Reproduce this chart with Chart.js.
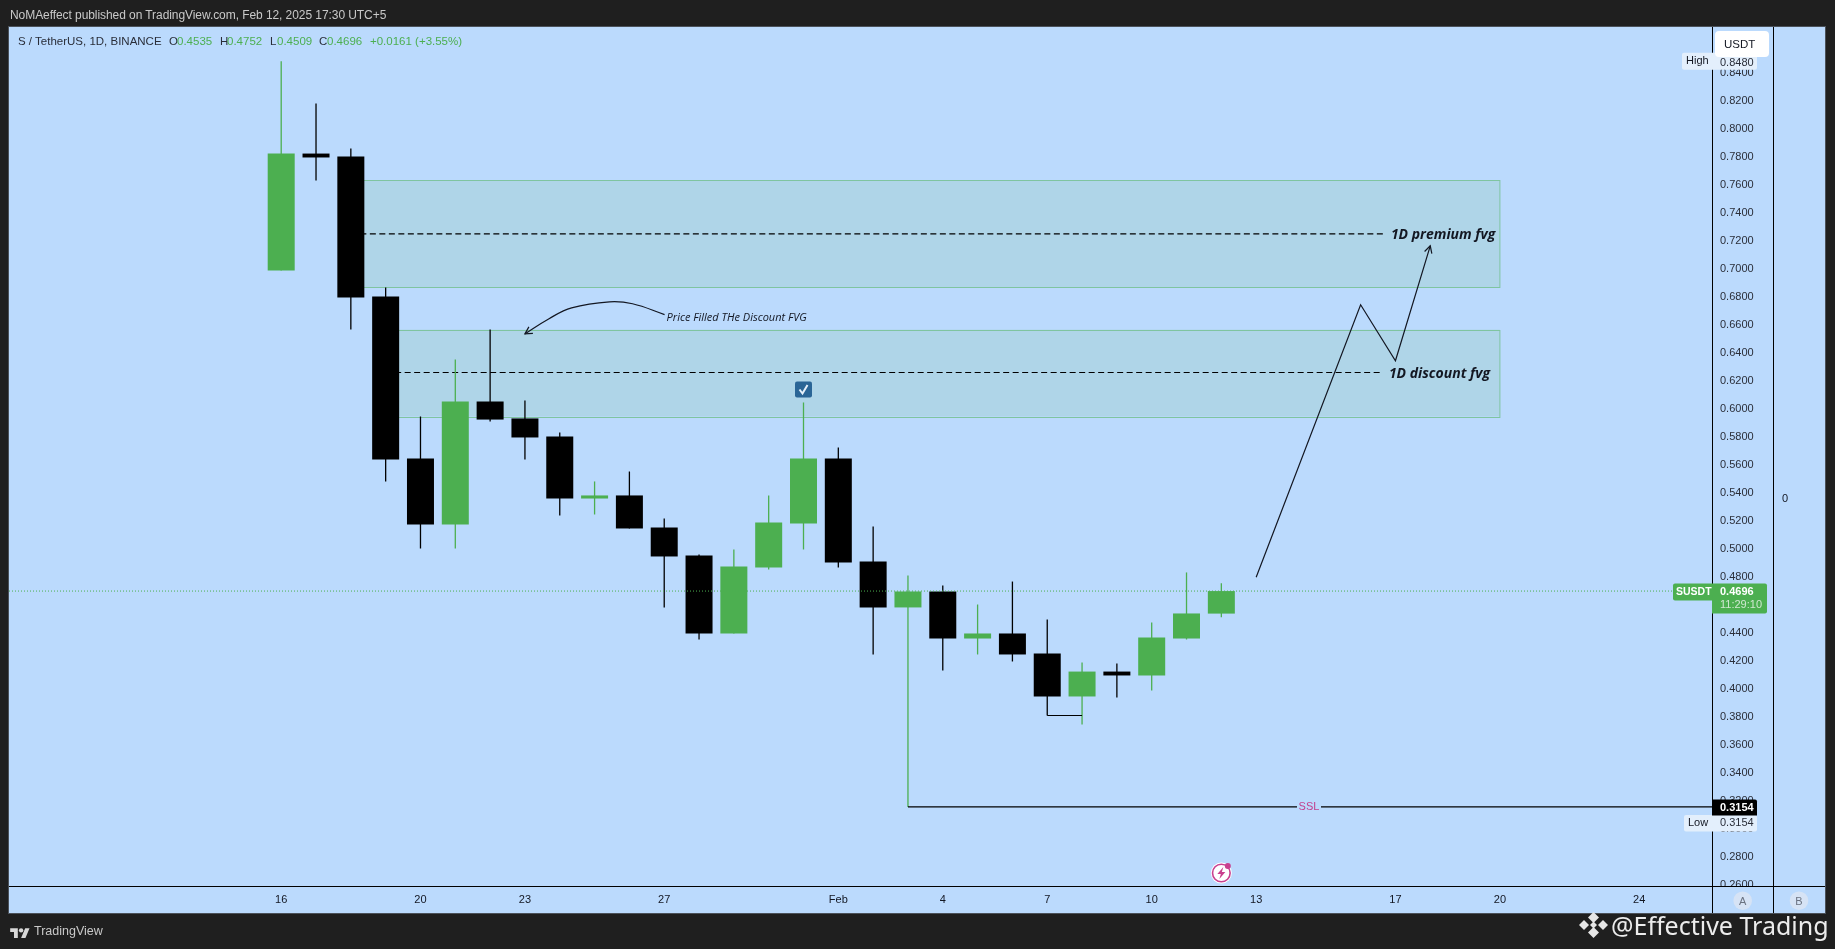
<!DOCTYPE html>
<html><head><meta charset="utf-8">
<script src="https://cdn.jsdelivr.net/npm/chart.js@4"></script>
<style>
html,body{margin:0;padding:0;background:#1f1f1f;width:1835px;height:949px;overflow:hidden}
#c{position:absolute;left:0;top:0}
.t{position:absolute;white-space:nowrap;font-family:"Liberation Sans",sans-serif;line-height:1}
.g{color:#4caf50}.d{color:#2a2e39}
svg{position:absolute}
</style></head><body>
<canvas id="c" width="1835" height="949"></canvas>
<div class="t" style="left:10px;top:9px;font-size:12px;color:#c9c9c9;letter-spacing:-.07px">NoMAeffect published on TradingView.com, Feb 12, 2025 17:30 UTC+5</div>
<div class="t d" style="left:18px;top:36px;font-size:11.5px">S / TetherUS, 1D, BINANCE</div>
<div class="t d" style="left:169px;top:36px;font-size:11.5px">O</div><div class="t g" style="left:177px;top:36px;font-size:11.5px">0.4535</div>
<div class="t d" style="left:220px;top:36px;font-size:11.5px">H</div><div class="t g" style="left:227px;top:36px;font-size:11.5px">0.4752</div>
<div class="t d" style="left:270px;top:36px;font-size:11.5px">L</div><div class="t g" style="left:277px;top:36px;font-size:11.5px">0.4509</div>
<div class="t d" style="left:319px;top:36px;font-size:11.5px">C</div><div class="t g" style="left:327px;top:36px;font-size:11.5px">0.4696</div>
<div class="t g" style="left:370px;top:36px;font-size:11.5px">+0.0161 (+3.55%)</div>
<svg style="left:10px;top:926px" width="20" height="12" viewBox="0 0 36 22"><path fill="#d8d8d8" d="M14 22H7V11H0V4h14v18zM28 22h-8l7.5-18h8L28 22z"/><circle fill="#d8d8d8" cx="20" cy="8" r="4"/></svg>
<div class="t" style="left:34px;top:925px;font-size:12.5px;color:#c9c9c9">TradingView</div>
<svg style="left:1579px;top:911px" width="29" height="28" viewBox="0 0 29 28"><g fill="#e6e6e6"><polygon points="14.5,1 20,6.5 14.5,12 9,6.5"/><polygon points="5,9 10,14 5,19 0,14"/><polygon points="24,9 29,14 24,19 19,14"/><polygon points="14.5,10.5 18,14 14.5,17.5 11,14"/><polygon points="14.5,16 20,21.5 14.5,27 9,21.5"/></g></svg>
<div class="t" style="left:1611px;top:913px;font-family:'Noto Sans',sans-serif;font-size:25px;color:#ececec">@Effective Trading</div>
<script>
const dayLabels = ["Jan 16","Jan 17","Jan 18","Jan 19","Jan 20","Jan 21","Jan 22","Jan 23","Jan 24","Jan 25","Jan 26","Jan 27","Jan 28","Jan 29","Jan 30","Jan 31","Feb 1","Feb 2","Feb 3","Feb 4","Feb 5","Feb 6","Feb 7","Feb 8","Feb 9","Feb 10","Feb 11","Feb 12"];
const opens  = [0.6986,0.7821,0.7800,0.6800,0.5643,0.5171,0.6050,0.5929,0.5800,0.5357,0.5379,0.5150,0.4950,0.4393,0.4864,0.5179,0.5643,0.4907,0.4579,0.4693,0.4357,0.4393,0.4250,0.3943,0.4121,0.4093,0.4357,0.4535];
const highs  = [0.8480,0.8179,0.7857,0.6864,0.5943,0.6350,0.6564,0.6057,0.5829,0.5479,0.5550,0.5214,0.4957,0.4993,0.5379,0.6043,0.5721,0.5157,0.4807,0.4736,0.4600,0.4764,0.4493,0.4186,0.4179,0.4471,0.4829,0.4752];
const lows   = [0.6986,0.7629,0.6564,0.5479,0.5000,0.5000,0.5907,0.5636,0.5236,0.5243,0.5143,0.4579,0.4350,0.4393,0.4850,0.4993,0.4864,0.4243,0.3154,0.4129,0.4243,0.4193,0.3807,0.3743,0.3936,0.3986,0.4350,0.4509];
const closes = [0.7821,0.7793,0.6793,0.5636,0.5171,0.6050,0.5921,0.5793,0.5357,0.5379,0.5143,0.4943,0.4393,0.4871,0.5186,0.5643,0.4900,0.4579,0.4693,0.4357,0.4393,0.4243,0.3943,0.4121,0.4093,0.4364,0.4536,0.4696];
const tickDays   = [0,4,7,11,16,19,22,25,28,32,35,39];
const tickLabels = ["16","20","23","27","Feb","4","7","10","13","17","20","24"];
const priceTicks = [0.26,0.28,0.30,0.32,0.34,0.36,0.38,0.40,0.42,0.44,0.46,0.48,0.50,0.52,0.54,0.56,0.58,0.60,0.62,0.64,0.66,0.68,0.70,0.72,0.74,0.76,0.78,0.80,0.82,0.84,0.86];
const zoneStarts  = [2,3];
const zoneEnds    = [35,35];
const zoneTops    = [0.7629,0.6564];
const zoneBottoms = [0.6864,0.5943];
const zoneMids    = [0.7248,0.6257];
const midEnds     = [31.73,31.56];
const zoneNames   = ["1D premium fvg","1D discount fvg"];
const pathDays    = [28,31,32,33];
const pathPrices  = [0.4795,0.6741,0.6341,0.7162];
const curveDays   = [11.01,10.09,9.43,8.34,7.68,7.0];
const curvePrices = [0.6671,0.6748,0.6762,0.6719,0.6640,0.6533];
const sweepDays   = [22,23];
const sweepPrices = [0.3807,0.3807];
const sslStart = 18, sslPrice = 0.3154, lastPrice = 0.4696, highPrice = 0.8480, lowPrice = 0.3154;

const GREEN="#4caf50", BLACK="#000000", INK="#131722", PANE="#bbdafd";
const xMin=(9-281.2)/34.82, xMax=(1712-281.2)/34.82, yMax=0.8725, yMin=0.25893;
const up=opens.map((o,i)=>closes[i]>=opens[i]);
const cols=up.map(u=>u?GREEN:BLACK);
const line=(data,extra)=>Object.assign({type:'line',data,borderColor:INK,borderWidth:1.2,pointRadius:0,fill:false,order:0,parsing:{xAxisKey:'x',yAxisKey:'y'}},extra);
const pts=(xs,ys)=>xs.map((x,i)=>({x,y:ys[i]}));

function box(ctx,x,y,w,h,fill,r){ctx.fillStyle=fill;ctx.beginPath();ctx.roundRect(x,y,w,h,r||0);ctx.fill();}
function txt(ctx,s,x,y,font,color,align){ctx.font=font;ctx.fillStyle=color;ctx.textAlign=align||'left';ctx.textBaseline='middle';ctx.fillText(s,x,y+1);}
function head(ctx,fx,fy,tx,ty,len){const a=Math.atan2(ty-fy,tx-fx);ctx.beginPath();
  ctx.moveTo(tx+len*Math.cos(a+2.65),ty+len*Math.sin(a+2.65));ctx.lineTo(tx,ty);ctx.lineTo(tx+len*Math.cos(a-2.65),ty+len*Math.sin(a-2.65));ctx.strokeStyle=INK;ctx.lineWidth=1.2;ctx.stroke();}

const deco={id:'deco',
 beforeDraw(ch){const c=ch.ctx;c.save();c.fillStyle="#1f1f1f";c.fillRect(0,0,1835,949);
   c.fillStyle="#4b5159";c.fillRect(8,26,1818,888);c.fillStyle=PANE;c.fillRect(9,27,1816,886);c.restore();},
 beforeDatasetsDraw(ch){const c=ch.ctx,X=ch.scales.x,Y=ch.scales.y;c.save();
   zoneTops.forEach((t,i)=>{const x0=X.getPixelForValue(zoneStarts[i]),x1=X.getPixelForValue(zoneEnds[i]),y0=Y.getPixelForValue(t),y1=Y.getPixelForValue(zoneBottoms[i]);
     c.fillStyle="#afd5e8";c.fillRect(x0,y0,x1-x0,y1-y0);c.strokeStyle="#7fc4a0";c.lineWidth=1;c.strokeRect(x0,Math.round(y0)+.5,x1-x0,Math.round(y1-y0));});
   c.restore();},
 afterDraw(ch){const c=ch.ctx,X=ch.scales.x,Y=ch.scales.y;c.save();
   c.fillStyle=PANE;c.fillRect(1713,887,60,26);
   c.fillStyle="#000";c.fillRect(1712,27,1,886);c.fillRect(1773,27,1,886);c.fillRect(9,886,1816,1);
   [[1742.7,"A"],[1799,"B"]].forEach(([x,s])=>{c.fillStyle="#d6e3f5";c.beginPath();c.arc(x,900.7,9.3,0,7);c.fill();txt(c,s,x,900.5,"11px 'Liberation Sans'","#6a7280",'center');});
   txt(c,"0",1782,498,"11px 'Liberation Sans'",INK);
   zoneNames.forEach((s,i)=>{txt(c,s,X.getPixelForValue(zoneEnds[i])-(i?111:109),Y.getPixelForValue(zoneMids[i]),"italic bold 14px 'Open Sans'",INK);});
   txt(c,"Price Filled THe Discount FVG",X.getPixelForValue(curveDays[0])+2,Y.getPixelForValue(curvePrices[0])+2,"italic 11px 'Open Sans'",INK);
   const n=pathDays.length-1,m=curveDays.length-1;
   head(c,X.getPixelForValue(pathDays[n-1]),Y.getPixelForValue(pathPrices[n-1]),X.getPixelForValue(pathDays[n]),Y.getPixelForValue(pathPrices[n]),8);
   head(c,X.getPixelForValue(curveDays[m-1]),Y.getPixelForValue(curvePrices[m-1]),X.getPixelForValue(curveDays[m]),Y.getPixelForValue(curvePrices[m]),8);
   const sy=Y.getPixelForValue(sslPrice);box(c,1297,sy-6,24,12,PANE);txt(c,"SSL",1309,sy-1,"11px 'Liberation Sans'","#c2418f",'center');
   const kx=X.getPixelForValue(15),ky=Y.getPixelForValue(highs[15])-13;
   box(c,kx-8.5,ky-8,17,16,"#2a6596",2);c.strokeStyle="#e6f0fa";c.lineWidth=2;c.beginPath();c.moveTo(kx-4,ky);c.lineTo(kx-1,ky+4);c.lineTo(kx+4,ky-4.5);c.stroke();
   const ex=X.getPixelForValue(27),ey=873;
   c.fillStyle="#fff";c.beginPath();c.arc(ex,ey,10.5,0,7);c.fill();c.strokeStyle="#c9408f";c.lineWidth=1.6;c.beginPath();c.arc(ex,ey,8.8,0,7);c.stroke();
   c.fillStyle="#c9408f";c.beginPath();c.moveTo(ex+2,ey-6);c.lineTo(ex-4,ey+1);c.lineTo(ex-.5,ey+1);c.lineTo(ex-2,ey+6);c.lineTo(ex+4,ey-1);c.lineTo(ex+.5,ey-1);c.closePath();c.fill();
   c.beginPath();c.arc(ex+6.5,ey-7,3,0,7);c.fill();
   const ly=Y.getPixelForValue(lastPrice),hy=Y.getPixelForValue(highPrice),lo=Y.getPixelForValue(lowPrice);
   box(c,1682,hy-8.5,75,17,"#e3effc",2);txt(c,"High",1686,hy-1,"11px 'Liberation Sans'",INK);txt(c,highPrice.toFixed(4),1720,hy+1,"11px 'Liberation Sans'","#2a2e39");
   box(c,1715,31,54,26,"#ffffff",4);txt(c,"USDT",1724,43.5,"11.5px 'Liberation Sans'",INK);
   box(c,1673,ly-7.5,39,17,GREEN,[2,0,0,2]);txt(c,"SUSDT",1676,ly,"bold 10.5px 'Liberation Sans'","#fff");
   box(c,1712,ly-7.5,55,30,GREEN,[0,2,2,0]);txt(c,lastPrice.toFixed(4),1720,ly,"bold 11px 'Liberation Sans'","#fff");txt(c,"11:29:10",1720,ly+13,"11px 'Liberation Sans'","#cfe8d0");
   box(c,1684,lo+8,73,16.5,"#e3effc",2);txt(c,"Low",1688,lo+15.5,"11px 'Liberation Sans'",INK);txt(c,lowPrice.toFixed(4),1720,lo+15.5,"11px 'Liberation Sans'","#2a2e39");
   box(c,1712,lo-7.5,45,16,"#000",[0,2,0,0]);txt(c,sslPrice.toFixed(4),1720,lo,"bold 11px 'Liberation Sans'","#fff");
   c.restore();}
};

new Chart(document.getElementById('c'),{
 type:'bar',
 plugins:[deco],
 data:{datasets:[
   {label:'wick',data:dayLabels.map((_,i)=>({x:i,y:[lows[i],highs[i]]})),backgroundColor:cols,barThickness:1.3,grouped:false,order:3,inflateAmount:0,borderWidth:0},
   {label:'body',data:dayLabels.map((_,i)=>({x:i,y:[opens[i],closes[i]]})),backgroundColor:cols,barThickness:27,grouped:false,order:2,inflateAmount:0,borderWidth:0},
   line(pts([zoneStarts[0],midEnds[0]],[zoneMids[0],zoneMids[0]]),{borderDash:[6,3.5],borderColor:"#000",order:4}),
   line(pts([zoneStarts[1],midEnds[1]],[zoneMids[1],zoneMids[1]]),{borderDash:[6,3.5],borderColor:"#000",order:4}),
   line(pts([xMin,xMax],[lastPrice,lastPrice]),{borderDash:[1,2],borderColor:GREEN,borderWidth:1}),
   line(pts([sslStart,xMax],[sslPrice,sslPrice]),{borderColor:"#000"}),
   line(pts(sweepDays,sweepPrices),{borderColor:"#000"}),
   line(pts(pathDays,pathPrices),{}),
   line(pts(curveDays,curvePrices),{tension:.4})
 ]},
 options:{responsive:false,animation:false,devicePixelRatio:1,
  layout:{padding:{left:9,top:27,right:62,bottom:36}},
  plugins:{legend:{display:false},tooltip:{enabled:false},title:{display:false}},
  scales:{
   x:{type:'linear',offset:false,min:xMin,max:xMax,grid:{display:false,drawTicks:false},border:{display:false},
      afterBuildTicks(s){s.ticks=tickDays.map(v=>({value:v}));},
      afterFit(s){s.height=27;},
      ticks:{autoSkip:false,maxRotation:0,padding:7,color:INK,font:{family:"Liberation Sans",size:11},
        callback(v){return tickLabels[tickDays.indexOf(v)];}}},
   y:{type:'linear',position:'right',min:yMin,max:yMax,grid:{display:false,drawTicks:false},border:{display:false},
      afterBuildTicks(s){s.ticks=priceTicks.map(v=>({value:v}));},
      afterFit(s){s.width=61;},
      ticks:{autoSkip:false,padding:8,color:"#2a2e39",font:{family:"Liberation Sans",size:11},
        callback(v){return Number(v).toFixed(4);}}}
  }}
});
</script>
</body></html>
